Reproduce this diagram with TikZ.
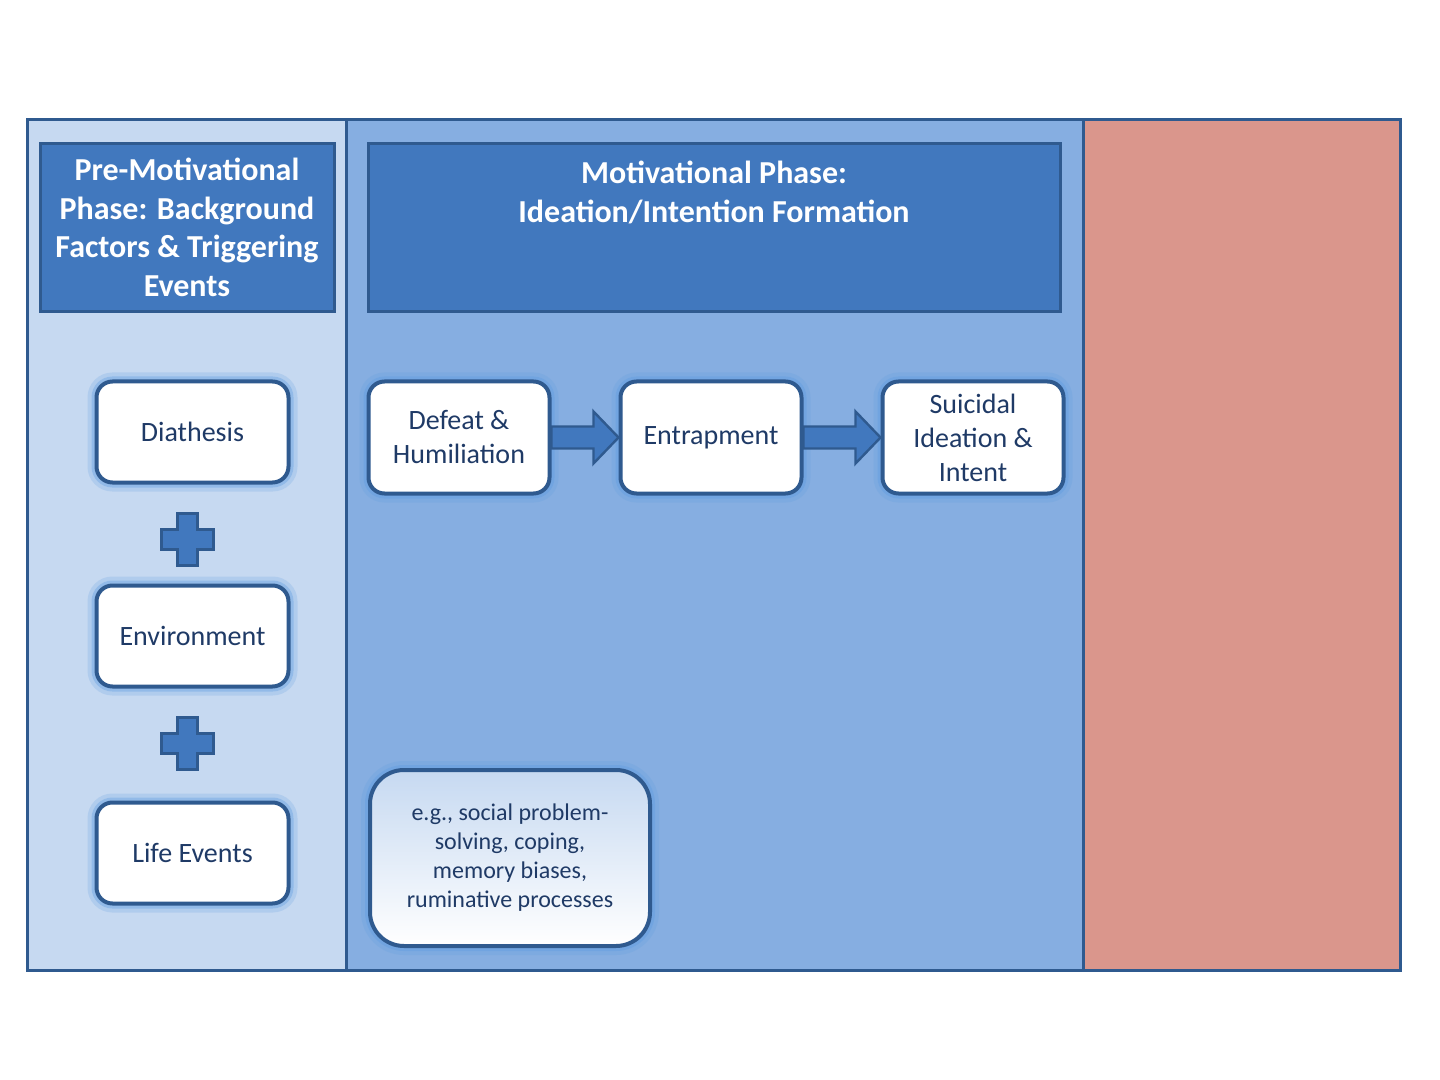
\documentclass[tikz,border=0pt]{standalone}
\usepackage{fontspec}
\setmainfont{Carlito}
\usepackage{tikz}
\usetikzlibrary{positioning,calc}
\definecolor{panelPre}{HTML}{C6D9F1}
\definecolor{panelMot}{HTML}{86AEE1}
\definecolor{panelVol}{HTML}{DA968C}
\definecolor{hdrFill}{HTML}{4178BE}
\definecolor{edgeBlue}{HTML}{2F5A8F}
\definecolor{txtNavy}{HTML}{1F3A66}
\definecolor{glowBlue}{HTML}{5B9BE0}
\tikzset{
  panel/.style={draw=edgeBlue, line width=1.5pt},
  header/.style={
    rectangle, fill=hdrFill, draw=edgeBlue, line width=1.5pt,
    text=white, align=center, inner sep=2pt,
    font=\fontsize{16}{19.3}\selectfont\bfseries
  },
  factor/.style={
    rectangle, rounded corners=8pt, fill=white, draw=edgeBlue,
    line width=2pt, text=txtNavy, align=center,
    font=\fontsize{14}{17}\selectfont,
    minimum width=96pt, minimum height=50.5pt,
    preaction={draw=glowBlue, line width=9pt, opacity=.2},
    preaction={draw=glowBlue, line width=5pt, opacity=.35}
  },
  mech/.style ={factor, minimum width=90.5pt, minimum height=56pt},
  note/.style ={
    factor, rounded corners=17pt, minimum width=140pt, minimum height=88pt,
    top color=panelPre, middle color=white, bottom color=white,
    font=\fontsize{12}{14.5}\selectfont
  },
  barrow/.style={fill=hdrFill, draw=edgeBlue, line width=1.2pt, line join=miter},
  plusmk/.style={fill=hdrFill, draw=edgeBlue, line width=1.5pt, line join=miter}
}
% fat arrow from one box to the next
\newcommand\blockarr[2]{%
  \draw[barrow] ($(#1.east)+(0,-11)$) -- ($(#2.west)+(-25,-11)$)
    -- ($(#2.west)+(-25,-26)$) -- (#2.west) -- ($(#2.west)+(-25,26)$)
    -- ($(#2.west)+(-25,11)$) -- ($(#1.east)+(0,11)$) -- cycle;}
% plus sign round a coordinate
\newcommand\plusmark[1]{%
  \draw[plusmk] ($(#1)+(-10,-26)$) -- ++(20,0) -- ++(0,16) -- ++(16,0)
    -- ++(0,20) -- ++(-16,0) -- ++(0,16) -- ++(-20,0) -- ++(0,-16)
    -- ++(-16,0) -- ++(0,-20) -- ++(16,0) -- cycle;}

\begin{document}
\begin{tikzpicture}[x=0.5pt, y=-0.5pt]
  \useasboundingbox (0,0) rectangle (1440,1080);

  % phase panels
  \fill[panelPre] (27,120) rectangle (346,970);
  \fill[panelMot] (346,120) rectangle (1083,970);
  \fill[panelVol] (1083,120) rectangle (1400,970);
  \draw[panel] (27,120) rectangle (1400,970);
  \draw[panel] (346,120) -- (346,970);
  \draw[panel] (1083,120) -- (1083,970);

  % headers
  \node[header, minimum width=147pt, minimum height=84pt] (preHdr) at (187,227.5)
       {Pre-Motivational\\Phase: Background\\Factors \& Triggering\\Events};
  \node[header, minimum width=346pt, minimum height=84pt] (motHdr) at (714,227.5) {};
  \node[header, draw=none, fill=none, anchor=north] (motTitle) at ([yshift=-7pt]motHdr.north)
       {Motivational Phase:\\Ideation/Intention Formation};

  % pre-motivational factors
  \node[factor] (diath) at (192.5,432) {Diathesis};
  \node[factor, below=49.5pt of diath] (envir) {Environment};
  \node[factor, below=56pt of envir] (life) {Life Events};
  \coordinate (plusA) at (187,539);
  \coordinate (plusB) at (187,743);
  \plusmark{plusA}
  \plusmark{plusB}

  % motivational chain
  \node[mech] (defeat) at (459,437.5) {Defeat \&\\Humiliation};
  \node[mech, right=33.5pt of defeat] (entrap) {Entrapment};
  \node[mech, right=38.5pt of entrap] (ideat)  {Suicidal\\Ideation \&\\Intent};
  \blockarr{defeat}{entrap}
  \blockarr{entrap}{ideat}

  % moderators
  \node[note] (modTS) at (510,858)
       {e.g., social problem-\\solving, coping,\\memory biases,\\ruminative processes};
\end{tikzpicture}
\end{document}
